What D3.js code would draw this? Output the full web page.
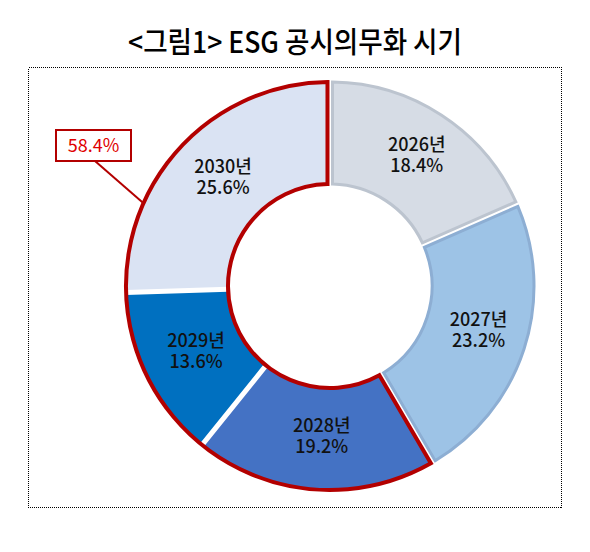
<!DOCTYPE html>
<html>
<head>
<meta charset="utf-8">
<script src="https://cdn.jsdelivr.net/npm/d3@7"></script>
<style>
  html, body { margin: 0; padding: 0; background: #fff; }
  svg { display: block; }
</style>
</head>
<body>
<div id="chart"></div>
<script>
// chart data
const years = ['2026년', '2027년', '2028년', '2029년', '2030년'];
const shares = [18.4, 23.2, 19.2, 13.6, 25.6];
const fills = ['#d6dce5', '#9dc3e6', '#4472c4', '#0070c0', '#dae3f3'];
const edges = ['#bcc4cf', '#8daed3', 'none', 'none', 'none'];
const highlighted = ['2028년', '2029년', '2030년'];
const title = '<그림1> ESG 공시의무화 시기';

const width = 590, height = 552;
const cx = 330, cy = 286, outerR = 204, innerR = 102;
const darkRed = '#b30000';
const pad = 0.022;

const svg = d3.select('#chart')
    .append('svg')
    .attr('width', width)
    .attr('height', height);

svg.append('text')
    .attr('x', 295)
    .attr('y', 53)
    .attr('text-anchor', 'middle')
    .attr('font-family', '"Noto Sans CJK KR", sans-serif')
    .attr('font-size', 29)
    .attr('font-weight', 500)
    .attr('textLength', 334)
    .attr('lengthAdjust', 'spacingAndGlyphs')
    .attr('fill', '#000')
    .text(title);

// dotted frame
svg.append('rect')
    .attr('x', 28.5)
    .attr('y', 67.5)
    .attr('width', 533)
    .attr('height', 440)
    .attr('fill', 'none')
    .attr('stroke', '#000')
    .attr('stroke-width', 1)
    .attr('stroke-dasharray', '1,1')
    .attr('shape-rendering', 'crispEdges');

const data = years.map((y, i) => ({ year: y, share: shares[i], fill: fills[i], edge: edges[i] }));

const pie = d3.pie()
    .value(d => d.share)
    .sort(null)
    .padAngle(pad);

const arc = d3.arc()
    .innerRadius(innerR)
    .outerRadius(outerR);

const arcs = pie(data);

const g = svg.append('g')
    .attr('transform', `translate(${cx},${cy})`);

g.selectAll('path.slice')
    .data(arcs)
    .enter().append('path')
    .attr('class', 'slice')
    .attr('d', arc)
    .attr('fill', d => d.data.fill)
    .attr('stroke', d => d.data.edge)
    .attr('stroke-width', 3);

// red outline around the highlighted group
const groupArcs = arcs.filter(d => highlighted.includes(d.data.year));
const groupSpan = {
    startAngle: d3.min(groupArcs, d => d.startAngle),
    endAngle: d3.max(groupArcs, d => d.endAngle),
    padAngle: pad
};

g.append('path')
    .attr('d', arc(groupSpan))
    .attr('fill', 'none')
    .attr('stroke', darkRed)
    .attr('stroke-width', 4)
    .attr('stroke-linejoin', 'miter');

// slice labels
const labels = g.selectAll('text.label')
    .data(arcs)
    .enter().append('text')
    .attr('class', 'label')
    .attr('transform', d => {
        const c = arc.centroid(d);
        return `translate(${c[0] + 3},${c[1]})`;
    })
    .attr('text-anchor', 'middle')
    .attr('font-family', '"Noto Sans CJK KR", sans-serif')
    .attr('font-size', 18)
    .attr('font-weight', 500)
    .attr('fill', '#111');

labels.append('tspan')
    .attr('x', 0)
    .attr('y', -7)
    .text(d => d.data.year);

labels.append('tspan')
    .attr('x', 0)
    .attr('y', 14)
    .text(d => d3.format('.1f')(d.data.share) + '%');

// group total callout
const groupTotal = d3.sum(groupArcs, d => d.data.share);
const leaderAngle = 5.13;
const leaderEnd = [outerR * Math.sin(leaderAngle), -outerR * Math.cos(leaderAngle)];
const box = { x: 56, y: 130, w: 75, h: 31 };

svg.append('line')
    .attr('x1', box.x + 39)
    .attr('y1', box.y + box.h)
    .attr('x2', cx + leaderEnd[0])
    .attr('y2', cy + leaderEnd[1])
    .attr('stroke', darkRed)
    .attr('stroke-width', 2);

svg.append('rect')
    .attr('x', box.x)
    .attr('y', box.y)
    .attr('width', box.w)
    .attr('height', box.h)
    .attr('fill', '#fff')
    .attr('stroke', darkRed)
    .attr('stroke-width', 2);

svg.append('text')
    .attr('x', box.x + box.w / 2)
    .attr('y', box.y + 22)
    .attr('text-anchor', 'middle')
    .attr('font-family', '"Noto Sans CJK KR", sans-serif')
    .attr('font-size', 18)
    .attr('fill', '#e00000')
    .text(d3.format('.1f')(groupTotal) + '%');
</script>
</body>
</html>
